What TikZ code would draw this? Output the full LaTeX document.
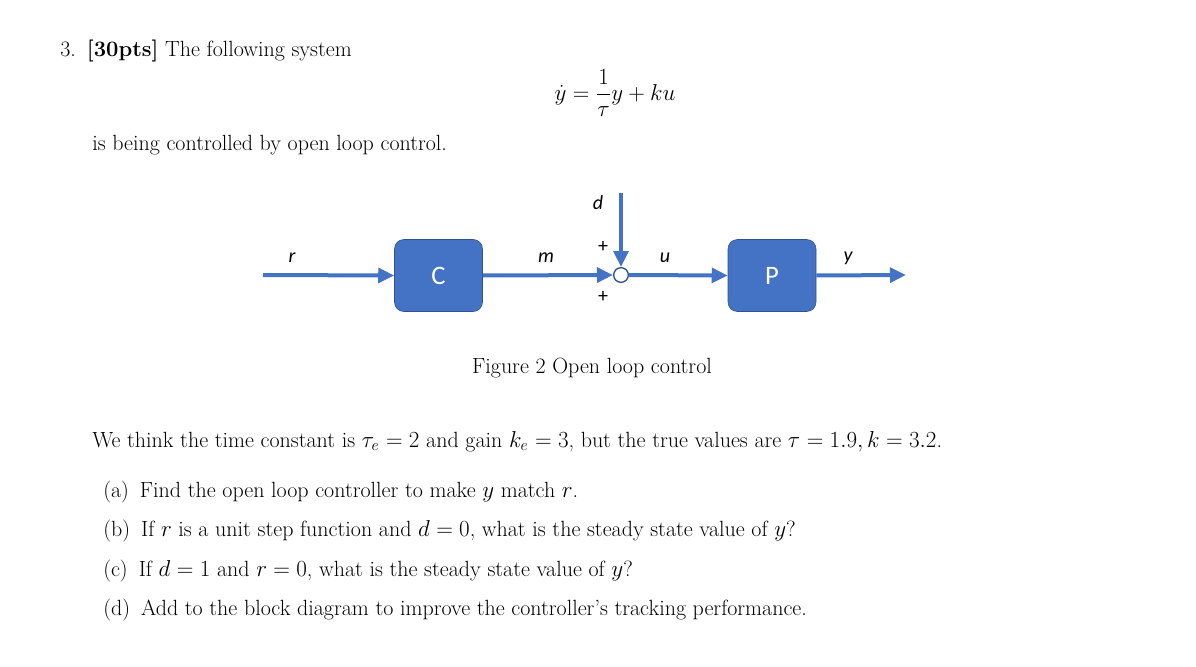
\documentclass[tikz,border=0pt]{standalone}
\usepackage{fontspec}
\usetikzlibrary{arrows.meta}
\newfontfamily\calfont{Carlito}
\definecolor{bl}{HTML}{4472C4}
\definecolor{bd}{HTML}{2F528F}
\begin{document}
\begin{tikzpicture}[x=0.75pt,y=-0.75pt,
  txt/.style={anchor=base west,inner sep=0,font=\fontsize{16.5}{20}\selectfont},
  lab/.style={inner sep=0,font=\calfont\itshape\fontsize{15}{18}\selectfont},
  blk/.style={draw=bd,fill=bl,rounded corners=7pt,minimum width=66pt,minimum height=54pt,inner sep=0,text=white,font=\calfont\fontsize{20}{24}\selectfont},
  ar/.style={draw=bl,line width=3pt,-{Triangle[length=12pt,width=11pt]}},
  ln/.style={draw=bl,line width=3pt}]
\useasboundingbox (0,0) rectangle (1196,667);
\node[txt] (t1) at (60,57) {3.\enspace\textbf{[30pts]} The following system};
\node[inner sep=0,font=\fontsize{16.5}{20}\selectfont] (eq) at (615,93) {$\displaystyle\dot y=\frac{1}{\tau}y+ku$};
\node[txt] (t2) at (92,150) {is being controlled by open loop control.};
\node[blk] (C) at (438.5,275.5) {C};
\node[blk] (P) at (772,275.5) {P};
\coordinate (r0) at (263,275);
\coordinate (d0) at (621,193);
\coordinate (y1) at (906,275);
\node[circle,draw=bd,fill=white,line width=1pt,minimum size=11pt,inner sep=0] (S) at (621,275) {};
\draw[ar] (r0) -- (C.west);
\draw[ar] (C.east) -- (S.west);
\draw[ar] (d0) -- (S.north);
\draw[ar] (S.east) -- (P.west);
\draw[ar] (P.east) -- (y1);
\node[lab] (lr) at (292,258) {r};
\node[lab] (lm) at (546,258) {m};
\node[lab] (ld) at (598,203) {d};
\node[inner sep=0,font=\calfont\fontsize{15}{18}\selectfont] (p1) at (603,247) {+};
\node[inner sep=0,font=\calfont\fontsize{15}{18}\selectfont] (p2) at (603,297) {+};
\node[lab] (lu) at (665,258) {u};
\node[lab] (ly) at (848,258) {y};
\node[inner sep=0,anchor=base,font=\fontsize{16.5}{20}\selectfont] (cap) at (592,373) {Figure 2 Open loop control};
\node[txt] (t3) at (92,447) {We think the time constant is $\tau_e=2$ and gain $k_e=3$, but the true values are $\tau=1.9,k=3.2$.};
\node[txt] (a) at (103,497) {(a)\enspace Find the open loop controller to make $y$ match $r$.};
\node[txt] (b) at (103,536) {(b)\enspace If $r$ is a unit step function and $d=0$, what is the steady state value of $y$?};
\node[txt] (c) at (103,576) {(c)\enspace If $d=1$ and $r=0$, what is the steady state value of $y$?};
\node[txt] (d) at (103,615) {(d)\enspace Add to the block diagram to improve the controller's tracking performance.};
\end{tikzpicture}
\end{document}
